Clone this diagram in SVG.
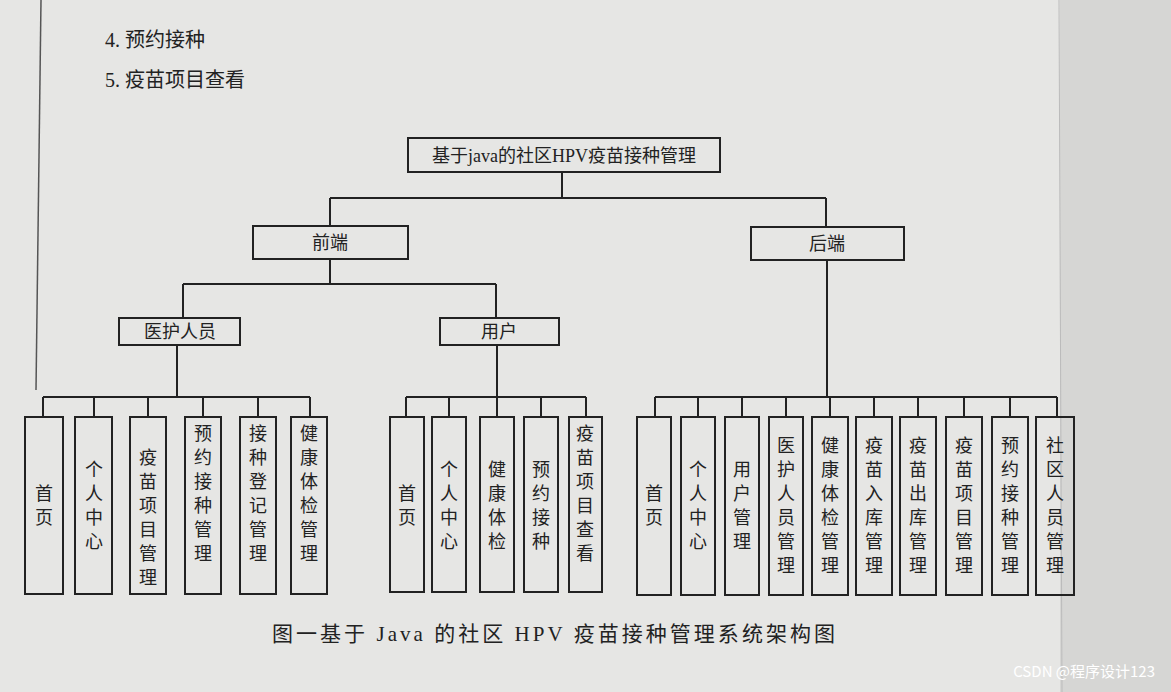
<svg xmlns="http://www.w3.org/2000/svg" width="1171" height="692" viewBox="0 0 1171 692">
<style>
.b{fill:none;stroke:#222;stroke-width:2}
.t{font-family:"Liberation Serif","Noto Sans CJK SC",serif;font-size:18px;fill:#222;text-anchor:middle}
.v{font-family:"Liberation Serif","Noto Sans CJK SC",serif;font-size:18px;fill:#222;text-anchor:middle}
</style>
<rect width="1171" height="692" fill="#e6e6e4"/>
<rect x="1060" y="0" width="111" height="692" fill="#d6d6d4"/>
<line x1="41" y1="0" x2="36" y2="390" stroke="#555" stroke-width="1.5"/>
<line x1="1059" y1="0" x2="1062" y2="692" stroke="#bbb" stroke-width="1"/>
<text x="105" y="47" font-family="Liberation Serif,'Noto Sans CJK SC',serif" font-size="20" fill="#222">4. 预约接种</text>
<text x="105" y="87" font-family="Liberation Serif,'Noto Sans CJK SC',serif" font-size="20" fill="#222">5. 疫苗项目查看</text>
<g id="connectors" class="b">
<path d="M562 172V198M330 198H826M330 198V226M826 198V227"/>
<path d="M330 259V284M183 284H496M183 284V318M496 284V318"/>
<path d="M177 345V397M43 397H310M43 397V417M94 397V417M148 397V417M203 397V417M258 397V417M310 397V417"/>
<path d="M497 345V397M406 397H586M406 397V417M449 397V417M497 397V417M541 397V417M586 397V417"/>
<path d="M827 260V397M655 397H1057M655 397V417M698 397V417M742 397V417M786 397V417M830 397V417M874 397V417M918 397V417M964 397V417M1010 397V417M1057 397V417"/>
</g>
<g id="root"><rect class="b" x="408" y="138" width="312" height="34"/><text class="t" x="564" y="162">基于java的社区HPV疫苗接种管理</text></g>
<g id="qd"><rect class="b" x="253" y="226" width="155" height="33"/><text class="t" x="330" y="249">前端</text></g>
<g id="hd"><rect class="b" x="751" y="227" width="153" height="33"/><text class="t" x="827" y="250">后端</text></g>
<g id="yh"><rect class="b" x="119" y="318" width="121" height="27"/><text class="t" x="180" y="338">医护人员</text></g>
<g id="yonghu"><rect class="b" x="440" y="318" width="119" height="27"/><text class="t" x="499" y="338">用户</text></g>
<g id="a1"><rect class="b" x="25" y="417" width="38" height="177"/><text class="v" x="44"><tspan x="44" y="500">首</tspan><tspan x="44" dy="24">页</tspan></text></g>
<g id="a2"><rect class="b" x="75" y="417" width="37" height="177"/><text class="v"><tspan x="94" y="476">个</tspan><tspan x="94" dy="24">人</tspan><tspan x="94" dy="24">中</tspan><tspan x="94" dy="24">心</tspan></text></g>
<g id="a3"><rect class="b" x="130" y="417" width="36" height="177"/><text class="v"><tspan x="148" y="464">疫</tspan><tspan x="148" dy="24">苗</tspan><tspan x="148" dy="24">项</tspan><tspan x="148" dy="24">目</tspan><tspan x="148" dy="24">管</tspan><tspan x="148" dy="24">理</tspan></text></g>
<g id="a4"><rect class="b" x="185" y="417" width="36" height="177"/><text class="v"><tspan x="203" y="440">预</tspan><tspan x="203" dy="24">约</tspan><tspan x="203" dy="24">接</tspan><tspan x="203" dy="24">种</tspan><tspan x="203" dy="24">管</tspan><tspan x="203" dy="24">理</tspan></text></g>
<g id="a5"><rect class="b" x="240" y="417" width="36" height="177"/><text class="v"><tspan x="258" y="440">接</tspan><tspan x="258" dy="24">种</tspan><tspan x="258" dy="24">登</tspan><tspan x="258" dy="24">记</tspan><tspan x="258" dy="24">管</tspan><tspan x="258" dy="24">理</tspan></text></g>
<g id="a6"><rect class="b" x="291" y="417" width="36" height="177"/><text class="v"><tspan x="309" y="440">健</tspan><tspan x="309" dy="24">康</tspan><tspan x="309" dy="24">体</tspan><tspan x="309" dy="24">检</tspan><tspan x="309" dy="24">管</tspan><tspan x="309" dy="24">理</tspan></text></g>
<g id="b1"><rect class="b" x="390" y="417" width="34" height="175"/><text class="v"><tspan x="407" y="500">首</tspan><tspan x="407" dy="24">页</tspan></text></g>
<g id="b2"><rect class="b" x="432" y="417" width="34" height="175"/><text class="v"><tspan x="449" y="476">个</tspan><tspan x="449" dy="24">人</tspan><tspan x="449" dy="24">中</tspan><tspan x="449" dy="24">心</tspan></text></g>
<g id="b3"><rect class="b" x="480" y="417" width="34" height="175"/><text class="v"><tspan x="497" y="476">健</tspan><tspan x="497" dy="24">康</tspan><tspan x="497" dy="24">体</tspan><tspan x="497" dy="24">检</tspan></text></g>
<g id="b4"><rect class="b" x="524" y="417" width="34" height="175"/><text class="v"><tspan x="541" y="476">预</tspan><tspan x="541" dy="24">约</tspan><tspan x="541" dy="24">接</tspan><tspan x="541" dy="24">种</tspan></text></g>
<g id="b5"><rect class="b" x="569" y="417" width="33" height="175"/><text class="v"><tspan x="585" y="440">疫</tspan><tspan x="585" dy="24">苗</tspan><tspan x="585" dy="24">项</tspan><tspan x="585" dy="24">目</tspan><tspan x="585" dy="24">查</tspan><tspan x="585" dy="24">看</tspan></text></g>
<g id="c1"><rect class="b" x="637" y="417" width="34" height="178"/><text class="v"><tspan x="654" y="500">首</tspan><tspan x="654" dy="24">页</tspan></text></g>
<g id="c2"><rect class="b" x="681" y="417" width="34" height="178"/><text class="v"><tspan x="698" y="476">个</tspan><tspan x="698" dy="24">人</tspan><tspan x="698" dy="24">中</tspan><tspan x="698" dy="24">心</tspan></text></g>
<g id="c3"><rect class="b" x="725" y="417" width="34" height="178"/><text class="v"><tspan x="742" y="476">用</tspan><tspan x="742" dy="24">户</tspan><tspan x="742" dy="24">管</tspan><tspan x="742" dy="24">理</tspan></text></g>
<g id="c4"><rect class="b" x="769" y="417" width="34" height="178"/><text class="v"><tspan x="786" y="452">医</tspan><tspan x="786" dy="24">护</tspan><tspan x="786" dy="24">人</tspan><tspan x="786" dy="24">员</tspan><tspan x="786" dy="24">管</tspan><tspan x="786" dy="24">理</tspan></text></g>
<g id="c5"><rect class="b" x="812" y="417" width="36" height="178"/><text class="v"><tspan x="830" y="452">健</tspan><tspan x="830" dy="24">康</tspan><tspan x="830" dy="24">体</tspan><tspan x="830" dy="24">检</tspan><tspan x="830" dy="24">管</tspan><tspan x="830" dy="24">理</tspan></text></g>
<g id="c6"><rect class="b" x="856" y="417" width="36" height="178"/><text class="v"><tspan x="874" y="452">疫</tspan><tspan x="874" dy="24">苗</tspan><tspan x="874" dy="24">入</tspan><tspan x="874" dy="24">库</tspan><tspan x="874" dy="24">管</tspan><tspan x="874" dy="24">理</tspan></text></g>
<g id="c7"><rect class="b" x="900" y="417" width="36" height="178"/><text class="v"><tspan x="918" y="452">疫</tspan><tspan x="918" dy="24">苗</tspan><tspan x="918" dy="24">出</tspan><tspan x="918" dy="24">库</tspan><tspan x="918" dy="24">管</tspan><tspan x="918" dy="24">理</tspan></text></g>
<g id="c8"><rect class="b" x="946" y="417" width="36" height="178"/><text class="v"><tspan x="964" y="452">疫</tspan><tspan x="964" dy="24">苗</tspan><tspan x="964" dy="24">项</tspan><tspan x="964" dy="24">目</tspan><tspan x="964" dy="24">管</tspan><tspan x="964" dy="24">理</tspan></text></g>
<g id="c9"><rect class="b" x="992" y="417" width="36" height="178"/><text class="v"><tspan x="1010" y="452">预</tspan><tspan x="1010" dy="24">约</tspan><tspan x="1010" dy="24">接</tspan><tspan x="1010" dy="24">种</tspan><tspan x="1010" dy="24">管</tspan><tspan x="1010" dy="24">理</tspan></text></g>
<g id="c10"><rect class="b" x="1036" y="417" width="38" height="178"/><text class="v"><tspan x="1055" y="452">社</tspan><tspan x="1055" dy="24">区</tspan><tspan x="1055" dy="24">人</tspan><tspan x="1055" dy="24">员</tspan><tspan x="1055" dy="24">管</tspan><tspan x="1055" dy="24">理</tspan></text></g>
<text x="272" y="641" textLength="563" lengthAdjust="spacing" font-family="Liberation Serif,'Noto Sans CJK SC',serif" font-size="21" fill="#222">图一基于 Java 的社区 HPV 疫苗接种管理系统架构图</text>
<text x="1155" y="677" text-anchor="end" font-family="'Noto Sans CJK SC',sans-serif" font-size="15" fill="#fff">CSDN @程序设计123</text>
</svg>
